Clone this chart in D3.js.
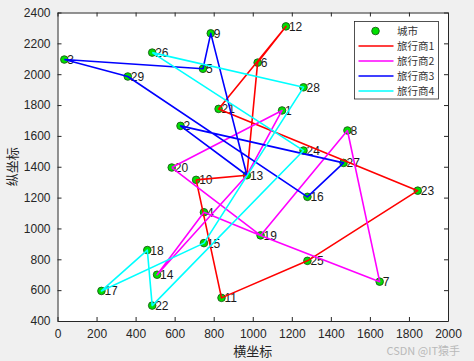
<!DOCTYPE html>
<html><head><meta charset="utf-8">
<script src="https://cdn.jsdelivr.net/npm/d3@7"></script>
<style>
html,body{margin:0;padding:0;background:#f0f0f0;}
svg{display:block;}
</style></head>
<body>
<script>
// ---- data ----
const cityIds = d3.range(1, 30);
const cityX = [1150,630,35,750,745,1025,1650,1485,785,710,840,1170,970,510,750,1280,225,460,1040,585,825,485,1845,1260,1280,485,1465,1260,360];
const cityY = [1765,1665,2095,1105,2035,2075,655,1635,2265,1315,550,2310,1345,700,905,1205,595,860,955,1395,1775,500,1245,1505,790,2140,1425,1915,1985];
const route1 = [10,13,6,12,21,23,25,11,10];
const route2 = [20,1,13,14,4,19,8,7,19,20];
const route3 = [3,5,9,13,2,27,16,29,3];
const route4 = [26,28,15,17,18,22,24,26];
const routeNames = ["旅行商1","旅行商2","旅行商3","旅行商4"];
const routeColors = ["#ff0000","#ff00ff","#0000ff","#00ffff"];
const xTicks = d3.range(0, 2001, 200);
const yTicks = d3.range(400, 2401, 200);
const xLabel = "横坐标", yLabel = "纵坐标", cityLegend = "城市";

const W = 474, H = 361;
const svg = d3.select("body").append("svg").attr("width", W).attr("height", H);
svg.append("rect").attr("width", W).attr("height", H).attr("fill", "#f0f0f0");

const L = 57.5, R = 448, T = 12.5, B = 321;
const x = d3.scaleLinear().domain([0, 2000]).range([L, R]);
const y = d3.scaleLinear().domain([400, 2400]).range([B, T]);

svg.append("rect").attr("x", L).attr("y", T).attr("width", R - L).attr("height", B - T).attr("fill", "#fff");

const axisColor = "#262626";
const fontNum = "'Liberation Sans', Arial, sans-serif";
const fontCJK = "'Noto Sans CJK SC', sans-serif";

function styleAxis(g) {
  g.select(".domain").attr("stroke", axisColor);
  g.selectAll(".tick line").attr("stroke", axisColor);
  g.selectAll(".tick text").attr("fill", axisColor).attr("font-family", fontNum).attr("font-size", 12);
}
// bottom
svg.append("g").attr("transform", `translate(0,${B})`)
  .call(d3.axisBottom(x).tickValues(xTicks).tickSizeInner(-4).tickSizeOuter(0).tickPadding(8).tickFormat(d3.format("d")))
  .call(styleAxis);
// top
svg.append("g").attr("transform", `translate(0,${T})`)
  .call(d3.axisTop(x).tickValues(xTicks).tickSizeInner(-4).tickSizeOuter(0).tickFormat(""))
  .call(styleAxis);
// left
svg.append("g").attr("transform", `translate(${L},0)`)
  .call(d3.axisLeft(y).tickValues(yTicks).tickSizeInner(-4).tickSizeOuter(0).tickPadding(7).tickFormat(d3.format("d")))
  .call(styleAxis);
// right
svg.append("g").attr("transform", `translate(${R},0)`)
  .call(d3.axisRight(y).tickValues(yTicks).tickSizeInner(-4).tickSizeOuter(0).tickFormat(""))
  .call(styleAxis);

// axis labels
svg.append("text").attr("x", (L + R) / 2).attr("y", 356).attr("text-anchor", "middle")
  .attr("font-family", fontCJK).attr("font-size", 13).attr("fill", axisColor).text(xLabel);
svg.append("text").attr("transform", `translate(17,${(T + B) / 2}) rotate(-90)`).attr("text-anchor", "middle")
  .attr("font-family", fontCJK).attr("font-size", 13).attr("fill", axisColor).text(yLabel);

// cities
const cities = cityIds.map((id, i) => ({id, x: cityX[i], y: cityY[i]}));
svg.append("g").selectAll("circle").data(cities).join("circle")
  .attr("cx", d => x(d.x)).attr("cy", d => y(d.y)).attr("r", 3.8)
  .attr("fill", "#00e000").attr("stroke", "#1a5a1a").attr("stroke-width", 0.9);
svg.append("g").selectAll("text").data(cities).join("text")
  .attr("x", d => x(d.x) + 3).attr("y", d => y(d.y) + 4.5)
  .attr("font-family", fontNum).attr("font-size", 12).attr("fill", "#1a1a1a").text(d => d.id);

// routes
const line = d3.line().x(id => x(cityX[id - 1])).y(id => y(cityY[id - 1]));
[route1, route2, route3, route4].forEach((r, i) => {
  svg.append("path").attr("d", line(r)).attr("fill", "none")
    .attr("stroke", routeColors[i]).attr("stroke-width", 1.6).attr("stroke-linejoin", "round");
});

// legend
const lg = svg.append("g");
lg.append("rect").attr("x", 354.5).attr("y", 21.5).attr("width", 84).attr("height", 77.5)
  .attr("fill", "#fff").attr("stroke", axisColor).attr("stroke-width", 0.8);
const rowY = [31, 46, 61, 76, 91];
lg.append("circle").attr("cx", 375.5).attr("cy", rowY[0]).attr("r", 3.8)
  .attr("fill", "#00e000").attr("stroke", "#1a5a1a").attr("stroke-width", 0.9);
lg.append("text").attr("x", 397).attr("y", rowY[0] + 4).attr("font-family", fontCJK).attr("font-size", 10.5)
  .attr("fill", "#333").text(cityLegend);
routeNames.forEach((n, i) => {
  lg.append("line").attr("x1", 358.5).attr("x2", 393.5).attr("y1", rowY[i + 1]).attr("y2", rowY[i + 1])
    .attr("stroke", routeColors[i]).attr("stroke-width", 1.6);
  lg.append("text").attr("x", 397).attr("y", rowY[i + 1] + 4).attr("font-family", fontCJK).attr("font-size", 10.5)
    .attr("fill", "#333").text(n);
});

// watermark
svg.append("text").attr("x", 460).attr("y", 355).attr("text-anchor", "end")
  .attr("font-family", fontCJK).attr("font-size", 11).attr("fill", "#b4b4b4").attr("opacity", 0.9).text("CSDN @IT猿手");
</script>
</body></html>
